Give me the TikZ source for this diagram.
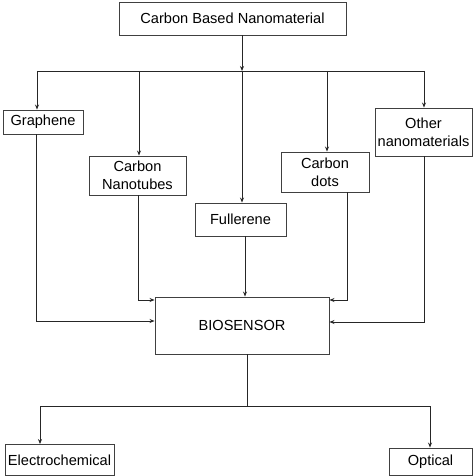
\documentclass[tikz,border=0pt]{standalone}
\usepackage{fontspec}
\setmainfont{Liberation Sans}
\usetikzlibrary{arrows.meta}
\tikzset{
  box/.style={draw=black!75, line width=0.9pt, fill=white, inner sep=1pt, align=center,
    font=\fontsize{14.6}{18}\selectfont},
  conn/.style={draw=black!85, line width=0.8pt},
  arr/.style={conn, -{Stealth[length=5pt,width=4pt]}}
}
\begin{document}
\begin{tikzpicture}[x=1pt,y=-1pt]
\useasboundingbox (0,0) rectangle (474,476);
\node[box, minimum width=227, minimum height=33] (top) at (232.5,18.5) {Carbon Based Nanomaterial};
\node[box, minimum width=80, minimum height=24] (gra) at (43,122) {Graphene};
\node[box, minimum width=97, minimum height=39] (cnt) at (137.5,175.5) {Carbon\\Nanotubes};
\node[box, minimum width=91, minimum height=33] (ful) at (240.5,219.5) {Fullerene};
\node[box, minimum width=88, minimum height=40] (cd) at (325,172) {Carbon\\dots};
\node[box, minimum width=97, minimum height=48] (oth) at (423.5,132) {Other\\nanomaterials};
\node[box, minimum width=174, minimum height=57] (bio) at (242,325.5) {BIOSENSOR};
\node[box, minimum width=109, minimum height=31] (ele) at (59.5,460) {Electrochemical};
\node[box, minimum width=83, minimum height=27] (opt) at (430.5,461.5) {Optical};
% bus coordinates
\coordinate (bc) at (242,71);
\coordinate (bg) at (37,71);
\coordinate (bn) at (139,71);
\coordinate (bd) at (327,71);
\coordinate (bo) at (424,71);
\draw[arr] (top.south -| bc) -- (bc);
\draw[conn] (bg) -- (bo);
\draw[arr] (bg) -- (bg |- gra.north);
\draw[arr] (bn) -- (bn |- cnt.north);
\draw[arr] (bc) -- (bc |- ful.north);
\draw[arr] (bd) -- (bd |- cd.north);
\draw[arr] (bo) -- (bo |- oth.north);
% into biosensor
\coordinate (ig) at (36,321);
\coordinate (in) at (138,300);
\coordinate (if) at (245,0);
\coordinate (id) at (347,300);
\coordinate (io) at (424,322);
\draw[arr] (ig |- gra.south) -- (ig) -- (ig -| bio.west);
\draw[arr] (in |- cnt.south) -- (in) -- (in -| bio.west);
\draw[arr] (if |- ful.south) -- (if |- bio.north);
\draw[arr] (id |- cd.south) -- (id) -- (id -| bio.east);
\draw[arr] (io |- oth.south) -- (io) -- (io -| bio.east);
% outputs
\coordinate (ob) at (247,406);
\coordinate (oe) at (40,406);
\coordinate (oo) at (430,406);
\draw[conn] (ob |- bio.south) -- (ob);
\draw[conn] (oe) -- (oo);
\draw[arr] (oe) -- (oe |- ele.north);
\draw[arr] (oo) -- (oo |- opt.north);
\end{tikzpicture}
\end{document}
